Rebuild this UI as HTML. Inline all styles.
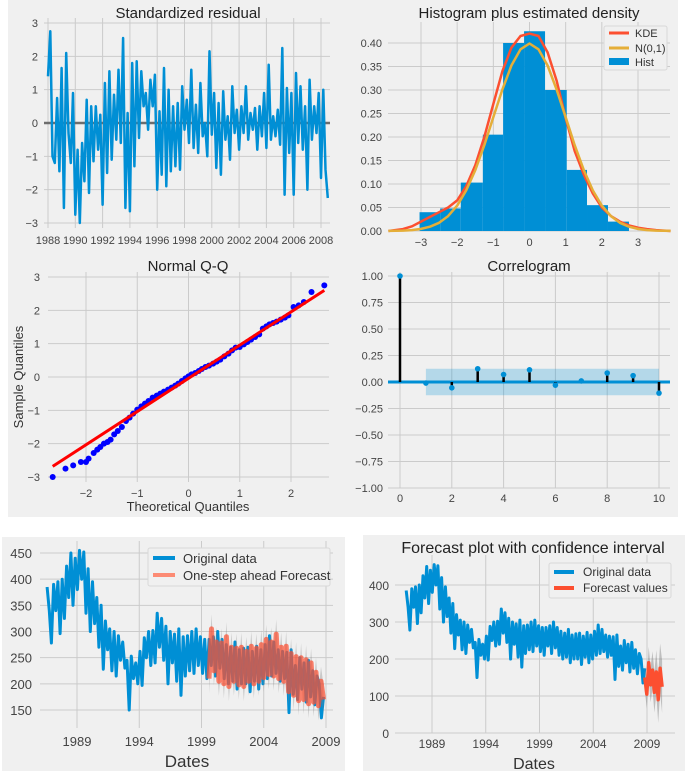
<!DOCTYPE html>
<html><head><meta charset="utf-8">
<style>
html,body{margin:0;padding:0;background:#fff;}
svg{display:block;font-family:"Liberation Sans","DejaVu Sans",sans-serif;}
</style></head>
<body>
<svg id="fig" width="685" height="771" viewBox="0 0 685 771" xmlns="http://www.w3.org/2000/svg">
<rect x="8" y="0" width="670" height="517" fill="#f0f0f0"/>
<rect x="2" y="537" width="343" height="234" fill="#f0f0f0"/>
<rect x="363" y="535" width="322" height="236" fill="#f0f0f0"/>
</svg>
<script>
// ---------- data ----------
const residYears = [1988, 2008.5];
const residuals = [1.4,2.75,-1.0,-1.2,0.75,-1.45,1.65,-2.55,2.1,-0.3,-1.2,0.9,
-2.75,-0.8,-3.0,-0.6,-1.75,0.7,-2.1,0.5,-1.15,0.5,-0.8,0.25,
-2.45,1.2,-1.5,1.55,-1.1,0.85,-0.5,1.6,-0.6,2.55,-2.55,0.3,
-2.65,1.8,-1.3,1.85,-0.45,1.55,0.5,0.9,-0.2,1.3,0.5,1.45,
-2.0,0.35,-1.55,1.65,-1.9,1.0,-1.45,0.5,-1.3,0.6,-1.4,1.1,
-0.2,0.7,-0.6,1.6,-0.75,0.55,-0.9,1.2,-0.4,0.0,-1.0,2.15,
-0.35,0.9,-1.35,0.6,-1.55,0.95,-0.5,0.2,-1.1,1.1,-0.3,0.4,
-0.8,0.5,-0.3,1.1,-0.5,0.3,-0.2,0.45,-0.8,0.5,-0.4,0.9,
-0.75,1.75,-0.5,0.2,-0.4,0.4,-0.65,2.25,-2.15,1.05,-0.9,0.9,
-2.15,1.5,-0.6,1.1,-0.8,0.5,-2.0,1.3,-0.5,0.5,-0.3,0.9,
-1.65,1.0,-1.4,-2.25];
const residYTicks = [-3,-2,-1,0,1,2,3];
const residXTicks = [1988,1990,1992,1994,1996,1998,2000,2002,2004,2006,2008];

const histEdges = [-3.04,-2.47,-1.9,-1.29,-0.73,-0.15,0.43,1.03,1.59,2.17,2.75];
const histHeights = [0.04,0.048,0.103,0.205,0.40,0.425,0.30,0.13,0.055,0.02];
const densX = [-3.9,-3.5,-3.25,-3,-2.75,-2.5,-2.25,-2,-1.75,-1.5,-1.25,-1,-0.75,-0.5,-0.25,0,0.25,0.5,0.75,1,1.25,1.5,1.75,2,2.25,2.5,2.75,3,3.25,3.5,3.9];
const kdeY = [0,0.004,0.01,0.02,0.03,0.04,0.05,0.065,0.095,0.14,0.2,0.27,0.34,0.39,0.415,0.42,0.415,0.38,0.32,0.24,0.17,0.12,0.08,0.05,0.032,0.02,0.012,0.007,0.004,0.002,0];
const normY = [0.0002,0.0009,0.002,0.0044,0.0091,0.0175,0.0317,0.054,0.0863,0.1295,0.1826,0.242,0.3011,0.3521,0.3867,0.3989,0.3867,0.3521,0.3011,0.242,0.1826,0.1295,0.0863,0.054,0.0317,0.0175,0.0091,0.0044,0.002,0.0009,0.0002];
const histYTicks = [0,0.05,0.10,0.15,0.20,0.25,0.30,0.35,0.40];
const histXTicks = [-3,-2,-1,0,1,2,3];

const qqTheo = [-2.65,-2.4,-2.25,-2.1,-2.0,-1.95,-1.85,-1.78,-1.72,-1.65,-1.58,-1.52,-1.45,-1.38,-1.3,-1.22,-1.15,-1.08,-1.0,-0.92,-0.85,-0.78,-0.7,-0.62,-0.55,-0.48,-0.4,-0.33,-0.26,-0.2,-0.13,-0.06,0,0.06,0.13,0.2,0.26,0.33,0.4,0.48,0.55,0.62,0.7,0.78,0.85,0.92,1.0,1.08,1.15,1.22,1.3,1.38,1.45,1.52,1.58,1.65,1.72,1.8,1.88,1.95,2.05,2.15,2.25,2.4,2.65];
const qqSample = [-3.0,-2.75,-2.65,-2.55,-2.55,-2.45,-2.28,-2.18,-2.1,-2.0,-1.95,-1.88,-1.72,-1.62,-1.5,-1.32,-1.22,-1.1,-0.98,-0.88,-0.8,-0.72,-0.62,-0.56,-0.5,-0.44,-0.38,-0.32,-0.26,-0.2,-0.12,-0.04,0.02,0.08,0.12,0.18,0.24,0.3,0.34,0.4,0.46,0.52,0.62,0.7,0.8,0.88,0.9,0.98,1.05,1.12,1.2,1.28,1.45,1.52,1.58,1.62,1.66,1.72,1.78,1.85,2.1,2.15,2.25,2.55,2.75];
const qqLine = [[-2.65,-2.68],[2.65,2.6]];
const qqXTicks = [-2,-1,0,1,2];
const qqYTicks = [-3,-2,-1,0,1,2,3];

const acfLags = [0,1,2,3,4,5,6,7,8,9,10];
const acfVals = [1.0,-0.01,-0.055,0.125,0.07,0.115,-0.03,0.01,0.085,0.06,-0.105];
const acfConf = 0.125;
const acfYTicks = [-1,-0.75,-0.5,-0.25,0,0.25,0.5,0.75,1];
const acfXTicks = [0,2,4,6,8,10];

const origSpan = [1986.6, 2008.8];
const original = [385,340,278,390,340,395,296,400,325,425,365,450,350,440,380,455,400,452,335,420,
300,395,315,365,270,350,228,320,265,305,225,300,215,292,245,280,230,245,150,253,
210,240,200,262,197,288,250,300,235,302,240,335,270,325,245,310,200,300,240,295,
205,305,178,290,215,292,225,300,220,305,235,290,220,285,210,285,235,290,215,300,
230,285,210,275,200,270,205,280,190,265,200,268,200,270,185,262,205,272,190,265,
200,275,210,292,215,280,220,265,205,262,210,260,145,265,180,235,170,250,190,240,
165,245,175,225,160,215,200,135,175];
const onestepSpan = [1999.6, 2008.8];
const onestep = [210,305,225,280,205,278,200,290,195,270,205,268,198,270,195,262,205,272,200,268,
205,275,212,285,218,280,215,295,210,270,205,272,185,258,178,252,168,250,170,246,
162,240,165,222,158,205,170];
const forecastSpan = [2008.8, 2010.4];
const forecast = [150,105,190,130,170,110,165,90,175,125];
const leftYTicks = [150,200,250,300,350,400,450];
const rightYTicks = [0,100,200,300,400];
const dateTicks = [1989,1994,1999,2004,2009];

// ---------- helpers ----------
const NS = "http://www.w3.org/2000/svg";
const svg = document.getElementById('fig');
function lin(d0,d1,p0,p1){return v=>p0+(v-d0)*(p1-p0)/(d1-d0);}
function mk(tag, attrs, parent){const e=document.createElementNS(NS,tag);for(const k in attrs)e.setAttribute(k,attrs[k]);(parent||svg).appendChild(e);return e;}
function txt(s, x, y, size, anchor, fill){const t=mk('text',{x:x,y:y,'font-size':size,'text-anchor':anchor||'middle',fill:fill||'#444'});t.textContent=s;return t;}
function fmt2(v){return (v<0?'\u2212':'')+Math.abs(v).toFixed(2);}
function fmtI(v){return (v<0?'\u2212':'')+Math.abs(v);}
function pathFrom(xs, ys){return xs.map((x,i)=>(i?'L':'M')+x.toFixed(1)+' '+ys[i].toFixed(1)).join(' ');}
function seriesX(span,n){return Array.from({length:n},(_,i)=>span[0]+i*(span[1]-span[0])/(n-1));}

// ---------- Panel 1: standardized residual ----------
(function(){
const sx=lin(1988,2008,48,321), sy=lin(-3,3,223,23);
const L=44,R=330,T=18,B=228;
residYTicks.forEach(v=>{
 const g=mk('line',{x1:L,x2:R,y1:sy(v),y2:sy(v),stroke:'#cbcbcb','stroke-width':1});
 
 
 const t=txt(fmtI(v),38,sy(v)+4,11,'end');
 
 
});
residXTicks.forEach(v=>{
 const g=mk('line',{x1:sx(v),x2:sx(v),y1:T,y2:B,stroke:'#cbcbcb','stroke-width':1});
 
 
 const t=txt(String(v),sx(v),244,11);
 
 
});
const z=mk('line',{x1:L,x2:R,y1:sy(0),y2:sy(0),stroke:'#6d6d6d','stroke-width':2.5});


const xs=seriesX(residYears,residuals.length).map(sx), ys=residuals.map(sy);
const p=mk('path',{d:pathFrom(xs,ys),fill:'none',stroke:'#008fd5','stroke-width':2.5,'stroke-linejoin':'round'});


const t=txt('Standardized residual',188,18,15,'middle','#222');


})();

// ---------- Panel 2: histogram ----------
(function(){
const sx=lin(-3,3,421,638), sy=lin(0,0.4,231,43);
const L=388,R=670,T=22,B=231;
histYTicks.forEach(v=>{
 const g=mk('line',{x1:L,x2:R,y1:sy(v),y2:sy(v),stroke:'#cbcbcb','stroke-width':1});
 
 
 const t=txt(v.toFixed(2),382,sy(v)+4,11,'end');
 
 
});
histXTicks.forEach(v=>{
 const g=mk('line',{x1:sx(v),x2:sx(v),y1:T,y2:B,stroke:'#cbcbcb','stroke-width':1});
 
 
 const t=txt(fmtI(v),sx(v),246,11);
 
 
});
histHeights.forEach((h,i)=>{
 const r=mk('rect',{x:sx(histEdges[i]),y:sy(h),width:sx(histEdges[i+1])-sx(histEdges[i]),height:sy(0)-sy(h),fill:'#008fd5'});
 
 
});
const k=mk('path',{d:pathFrom(densX.map(sx),kdeY.map(sy)),fill:'none',stroke:'#fc4f30','stroke-width':2.5,'stroke-linejoin':'round'});


const n=mk('path',{d:pathFrom(densX.map(sx),normY.map(sy)),fill:'none',stroke:'#e5ae38','stroke-width':2.5,'stroke-linejoin':'round'});


const t=txt('Histogram plus estimated density',529,18,15,'middle','#222');


const lg=mk('rect',{x:604,y:26,width:63,height:44,fill:'#f0f0f0',stroke:'#d8d8d8',rx:2});


const e1=mk('line',{x1:609,x2:629,y1:33,y2:33,stroke:'#fc4f30','stroke-width':3});


const t1=txt('KDE',635,37,11,'start','#333');


const e2=mk('line',{x1:609,x2:629,y1:48,y2:48,stroke:'#e5ae38','stroke-width':3});


const t2=txt('N(0,1)',635,52,11,'start','#333');


const e3=mk('rect',{x:609,y:58,width:20,height:7,fill:'#008fd5'});


const t3=txt('Hist',635,66,11,'start','#333');


})();

// ---------- Panel 3: QQ ----------
(function(){
const sx=lin(-2,2,86,291), sy=lin(-3,3,477,277);
const L=48,R=329,T=272,B=482;
qqYTicks.forEach(v=>{
 const g=mk('line',{x1:L,x2:R,y1:sy(v),y2:sy(v),stroke:'#cbcbcb','stroke-width':1});
 
 
 const t=txt(fmtI(v),40,sy(v)+4,11,'end');
 
 
});
qqXTicks.forEach(v=>{
 const g=mk('line',{x1:sx(v),x2:sx(v),y1:T,y2:B,stroke:'#cbcbcb','stroke-width':1});
 
 
 const t=txt(fmtI(v),sx(v),497,11);
 
 
});
qqTheo.forEach((q,i)=>{
 const c=mk('circle',{cx:sx(q),cy:sy(qqSample[i]),r:3,fill:'#0000ff'});
 
 
});
const ln=mk('line',{x1:sx(qqLine[0][0]),y1:sy(qqLine[0][1]),x2:sx(qqLine[1][0]),y2:sy(qqLine[1][1]),stroke:'#ff0000','stroke-width':3});


const t=txt('Normal Q-Q',188,271,15,'middle','#222');


const xl=txt('Theoretical Quantiles',188,511,13,'middle','#333');


const yl=txt('Sample Quantiles',0,0,13,'middle','#333');
yl.setAttribute('transform','translate(23,377) rotate(-90)');


})();

// ---------- Panel 4: correlogram ----------
(function(){
const sx=lin(0,10,400,659), sy=lin(-1,1,488,276);
const L=388,R=670,T=272,B=488;
acfYTicks.forEach(v=>{
 const g=mk('line',{x1:L,x2:R,y1:sy(v),y2:sy(v),stroke:'#cbcbcb','stroke-width':1});
 
 
 const t=txt(fmt2(v),383,sy(v)+4,11,'end');
 
 
});
acfXTicks.forEach(v=>{
 const g=mk('line',{x1:sx(v),x2:sx(v),y1:T,y2:B,stroke:'#cbcbcb','stroke-width':1});
 
 
 const t=txt(String(v),sx(v),502,11);
 
 
});
const band=mk('rect',{x:sx(1),y:sy(acfConf),width:sx(10)-sx(1),height:sy(-acfConf)-sy(acfConf),fill:'#008fd5','fill-opacity':0.25});


const z=mk('line',{x1:L,x2:R,y1:sy(0),y2:sy(0),stroke:'#008fd5','stroke-width':3});


acfLags.forEach((lag,i)=>{
 const s=mk('line',{x1:sx(lag),x2:sx(lag),y1:sy(0),y2:sy(acfVals[i]),stroke:'#000','stroke-width':2.5});
 
 
 const c=mk('circle',{cx:sx(lag),cy:sy(acfVals[i]),r:2.8,fill:'#008fd5'});
 
 
});
const t=txt('Correlogram',529,271,15,'middle','#222');


})();

// ---------- Bottom left: one-step forecast ----------
(function(){
const sx=lin(1989,2009,77,326), sy=lin(150,450,710,553);
const L=40,R=333,T=541,B=728;
leftYTicks.forEach(v=>{
 const g=mk('line',{x1:L,x2:R,y1:sy(v),y2:sy(v),stroke:'#cbcbcb','stroke-width':1});
 
 
 const t=txt(String(v),32,sy(v)+5,13,'end');
 
 
});
dateTicks.forEach(v=>{
 const g=mk('line',{x1:sx(v),x2:sx(v),y1:T,y2:B,stroke:'#cbcbcb','stroke-width':1});
 
 
 const t=txt(String(v),sx(v),746,13);
 
 
});
const ox=seriesX(origSpan,original.length).map(sx);
const o=mk('path',{d:pathFrom(ox,original.map(sy)),fill:'none',stroke:'#008fd5','stroke-width':3,'stroke-linejoin':'round'});


const fx=seriesX(onestepSpan,onestep.length).map(sx);
const up=onestep.map(v=>sy(v+28)), lo=onestep.map(v=>sy(v-28));
const bd='M'+fx.map((x,i)=>x.toFixed(1)+' '+up[i].toFixed(1)).join(' L')+' L'+fx.slice().reverse().map((x,i)=>x.toFixed(1)+' '+lo[lo.length-1-i].toFixed(1)).join(' L')+' Z';
const band=mk('path',{d:bd,fill:'#808080','fill-opacity':0.35});


const f=mk('path',{d:pathFrom(fx,onestep.map(sy)),fill:'none',stroke:'#fc4f30','stroke-opacity':0.7,'stroke-width':5,'stroke-linejoin':'round'});


const dl=txt('Dates',187,767,17,'middle','#333');


const lg=mk('rect',{x:148,y:548,width:182,height:38,fill:'#f0f0f0',stroke:'#d8d8d8',rx:2});


const s1=mk('line',{x1:153,x2:175,y1:558,y2:558,stroke:'#008fd5','stroke-width':4});


const l1=txt('Original data',183,563,13,'start','#333');


const s2=mk('line',{x1:153,x2:175,y1:575,y2:575,stroke:'#fc8b74','stroke-width':4});


const l2=txt('One-step ahead Forecast',183,580,13,'start','#333');


})();

// ---------- Bottom right: forecast with CI ----------
(function(){
const sx=lin(1989,2009,432,647), sy=lin(0,400,733,585);
const L=395,R=675,T=555,B=733;
rightYTicks.forEach(v=>{
 const g=mk('line',{x1:L,x2:R,y1:sy(v),y2:sy(v),stroke:'#cbcbcb','stroke-width':1});
 
 
 const t=txt(String(v),389,sy(v)+5,12,'end');
 
 
});
dateTicks.forEach(v=>{
 const g=mk('line',{x1:sx(v),x2:sx(v),y1:T,y2:B,stroke:'#cbcbcb','stroke-width':1});
 
 
 const t=txt(String(v),sx(v),748,12);
 
 
});
const ox=seriesX(origSpan,original.length).map(sx);
const o=mk('path',{d:pathFrom(ox,original.map(sy)),fill:'none',stroke:'#008fd5','stroke-width':3,'stroke-linejoin':'round'});


const fx=seriesX(forecastSpan,forecast.length).map(sx);
const up=forecast.map((v,i)=>sy(v+35+i*4)), lo=forecast.map((v,i)=>sy(v-35-i*4));
const bd='M'+fx.map((x,i)=>x.toFixed(1)+' '+up[i].toFixed(1)).join(' L')+' L'+fx.slice().reverse().map((x,i)=>x.toFixed(1)+' '+lo[lo.length-1-i].toFixed(1)).join(' L')+' Z';
const band=mk('path',{d:bd,fill:'#808080','fill-opacity':0.45});


const f=mk('path',{d:pathFrom(fx,forecast.map(sy)),fill:'none',stroke:'#fc4f30','stroke-width':3.5,'stroke-linejoin':'round'});


const tt=txt('Forecast plot with confidence interval',533,553,16,'middle','#222');


const dl=txt('Dates',534,769,16,'middle','#333');


const lg=mk('rect',{x:549,y:563,width:122,height:35,fill:'#f0f0f0',stroke:'#d8d8d8',rx:2});


const s1=mk('line',{x1:554,x2:574,y1:572,y2:572,stroke:'#008fd5','stroke-width':4});


const l1=txt('Original data',583,576,12,'start','#333');


const s2=mk('line',{x1:554,x2:574,y1:588,y2:588,stroke:'#fc4f30','stroke-width':4});


const l2=txt('Forecast values',583,592,12,'start','#333');


})();
</script>
</body></html>
